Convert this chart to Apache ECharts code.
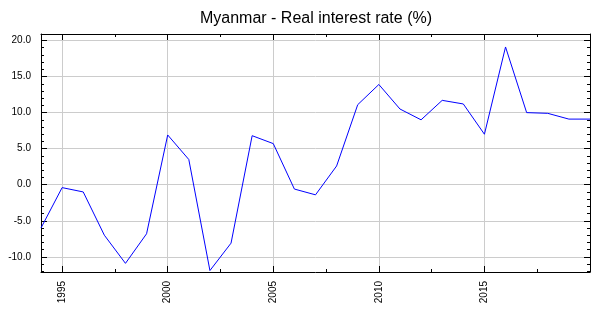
<!DOCTYPE html>
<html>
<head>
<meta charset="utf-8">
<script src="https://cdn.jsdelivr.net/npm/echarts@6/dist/echarts.min.js"></script>
<style>
html,body{margin:0;padding:0;background:#fff;}
#chart{width:600px;height:315px;}
</style>
</head>
<body>
<div id="chart"></div>
<script>
const titleText = 'Myanmar - Real interest rate (%)';
const years = [1994,1995,1996,1997,1998,1999,2000,2001,2002,2003,2004,2005,2006,2007,2008,2009,2010,2011,2012,2013,2014,2015,2016,2017,2018,2019,2020];
const values = [-6.0,-0.4,-1.0,-7.0,-10.9,-6.8,6.9,3.5,-11.9,-8.1,6.8,5.7,-0.6,-1.4,2.6,11.1,13.9,10.5,9.0,11.7,11.2,7.0,19.1,10.0,9.9,9.1,9.1];
const xMajorTicks = [1995,2000,2005,2010,2015];
const xMinorTicks = [1997.5,2002.5,2007.5,2012.5,2017.5];
const yMajorTicks = [-10,-5,0,5,10,15,20];
const yMinorTicks = [-12,-11,-9,-8,-7,-6,-4,-3,-2,-1,1,2,3,4,6,7,8,9,11,12,13,14,16,17,18,19];

const X_MIN = 1994, X_MAX = 2020, Y_MIN = -12.1, Y_MAX = 20.9;
const FONT = "'Liberation Sans', Arial, sans-serif";

function xAx(position, ticks, len, main) {
  return {
    type: 'value', position: position, min: X_MIN, max: X_MAX,
    axisLine: { show: main, onZero: false, lineStyle: { color: '#000', width: 1 } },
    axisTick: { show: true, inside: true, length: len, customValues: ticks, lineStyle: { color: '#000', width: 1 } },
    axisLabel: main && position === 'bottom' ? {
      show: true, customValues: ticks, rotate: 90, margin: 9,
      color: '#000', fontSize: 10, fontFamily: FONT,
      formatter: v => String(v)
    } : { show: false },
    splitLine: main && position === 'bottom' ? { show: true, lineStyle: { color: '#cccccc', width: 1 } } : { show: false },
    minorTick: { show: false }
  };
}
function yAx(position, ticks, len, main) {
  return {
    type: 'value', position: position, min: Y_MIN, max: Y_MAX,
    axisLine: { show: main, onZero: false, lineStyle: { color: '#000', width: 1 } },
    axisTick: { show: true, inside: true, length: len, customValues: ticks, lineStyle: { color: '#000', width: 1 } },
    axisLabel: main && position === 'left' ? {
      show: true, customValues: ticks, margin: 10,
      color: '#000', fontSize: 10, fontFamily: FONT,
      formatter: v => Number(v).toFixed(1)
    } : { show: false },
    splitLine: main && position === 'left' ? { show: true, lineStyle: { color: '#cccccc', width: 1 } } : { show: false },
    minorTick: { show: false }
  };
}

const chart = echarts.init(document.getElementById('chart'), null, { renderer: 'canvas' });
chart.setOption({
  animation: false,
  backgroundColor: '#fff',
  title: {
    text: titleText, left: 316, top: 11, padding: 0, textAlign: 'center',
    textStyle: { fontFamily: FONT, fontSize: 16, fontWeight: 'normal', color: '#000' }
  },
  grid: { left: 41, right: 10, top: 34, bottom: 43, containLabel: false },
  xAxis: [
    xAx('bottom', xMajorTicks, 6, true),
    xAx('top', xMajorTicks, 6, true),
    xAx('bottom', xMinorTicks, 3, false),
    xAx('top', xMinorTicks, 3, false)
  ],
  yAxis: [
    yAx('left', yMajorTicks, 6, true),
    yAx('right', yMajorTicks, 6, true),
    yAx('left', yMinorTicks, 3, false),
    yAx('right', yMinorTicks, 3, false)
  ],
  series: [{
    type: 'line', xAxisIndex: 0, yAxisIndex: 0,
    data: years.map((y, i) => [y, values[i]]),
    showSymbol: false, symbol: 'none',
    lineStyle: { color: '#0000ff', width: 1 },
    clip: true
  }]
});
</script>
</body>
</html>
